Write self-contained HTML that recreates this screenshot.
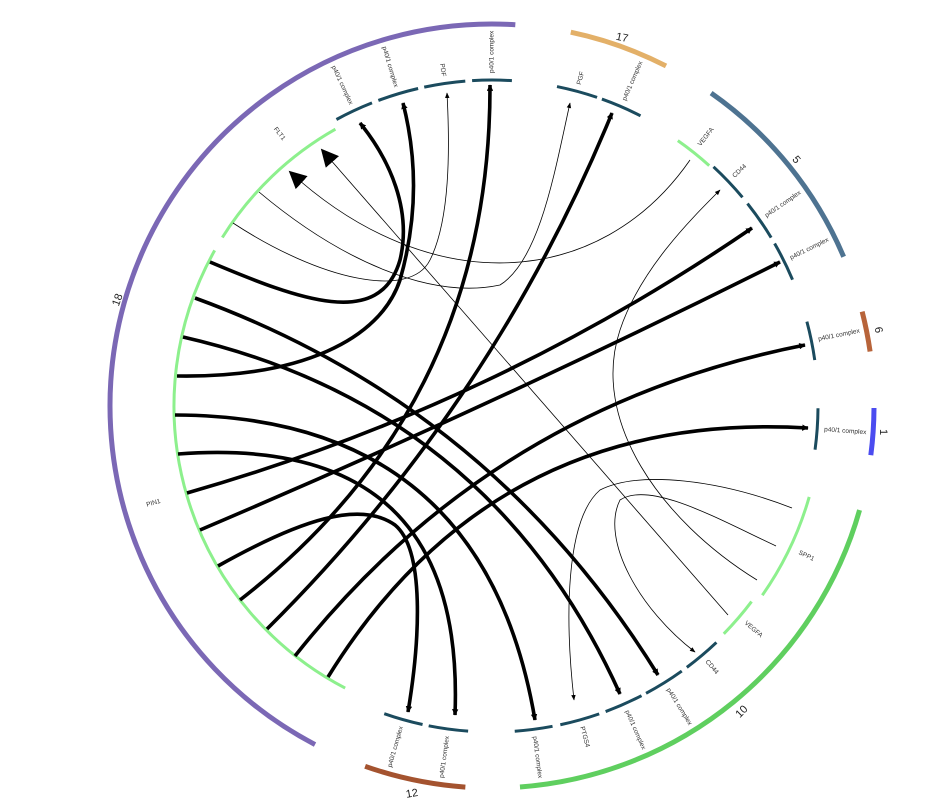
<!DOCTYPE html>
<html><head><meta charset="utf-8"><style>
html,body{margin:0;padding:0;background:#fff;width:946px;height:808px;overflow:hidden}
svg{display:block}
text{font-family:"Liberation Sans",sans-serif}
</style></head><body>
<svg id="s" width="946" height="808" viewBox="0 0 946 808" xmlns="http://www.w3.org/2000/svg">
<defs>
<marker id="a" viewBox="0 0 10 10" refX="9" refY="5" markerWidth="1.8" markerHeight="1.8" orient="auto" markerUnits="strokeWidth"><path d="M0,0L10,5L0,10z" fill="#000"/></marker>
<marker id="at" viewBox="0 0 10 10" refX="9" refY="5" markerWidth="7" markerHeight="7" orient="auto" markerUnits="strokeWidth"><path d="M0,1L10,5L0,9z" fill="#000"/></marker>
<marker id="ab" viewBox="0 0 10 10" refX="9" refY="5" markerWidth="22" markerHeight="22" orient="auto" markerUnits="strokeWidth"><path d="M0,0L10,5L0,10z" fill="#000"/></marker>
</defs>
<g id="g"></g>
</svg>
<script>
var NS="http://www.w3.org/2000/svg",g=document.getElementById('g');
var cx=492,cy=406;
function P(r,a){a=a*Math.PI/180;return [cx+r*Math.cos(a),cy+r*Math.sin(a)];}
function el(n,at,txt){var e=document.createElementNS(NS,n);for(var k in at)e.setAttribute(k,at[k]);if(txt)e.textContent=txt;g.appendChild(e);return e;}
function arc(r,a1,a2,col,w){var p1=P(r,a1),p2=P(r,a2);var large=Math.abs(a2-a1)>180?1:0;var sw=a2>a1?1:0;
el('path',{d:'M'+p1[0]+','+p1[1]+' A'+r+','+r+' 0 '+large+','+sw+' '+p2[0]+','+p2[1],fill:'none',stroke:col,'stroke-width':w});}
arc(382,-86.5,-242.4,'#7b68b5',5);
arc(382,-78.1,-62.9,'#e3b068',5);
arc(382,-55,-23,'#4e7391',5);
arc(382,-14.3,-8.2,'#b8643a',5);
arc(382,0.3,7.4,'#4b4cf0',5);
arc(382,15.8,85.8,'#5fcf5f',5);
arc(382,94,109.4,'#a4532f',5);
function T(x,y,s,fs,rot){var t=el('text',{x:x,y:y,'font-size':fs,fill:'#222','text-anchor':'middle','dominant-baseline':'middle'},s);if(rot!==undefined)t.setAttribute('transform','rotate('+rot+' '+x+' '+y+')');}
T(118,300,'18',11,-70);T(622,38,'17',11,12);T(796,160,'5',11,50);T(878,330,'6',11,80);T(883,432,'1',11,90);T(742,712,'10',11,-45);T(412,794,'12',11,-10);
var LG='#8df08d',DB='#1b4b5e';
arc(318,-119.5,-148,LG,3);
arc(318,-150.7,-242.5,LG,3);
arc(324,-55,-47.9,LG,3);
arc(330,16,35,LG,3);
arc(325,37,44.5,LG,3);
var segs=[[-118.5,-111.6,'p40/1 complex'],[-110.4,-103.1,'p40/1 complex'],[-102,-94.7,'PDF'],[-93.5,-86.5,'p40/1 complex'],
[-78.5,-71.2,'PGF'],[-70.3,-62.9,'p40/1 complex'],[-47.2,-39.8,'CD44'],[-38.4,-31.1,'p40/1 complex'],[-29.9,-22.8,'p40/1 complex'],
[-15,-8.1,'p40/1 complex'],[0.4,7.7,'p40/1 complex'],[46.5,53.3,'CD44'],[54.4,61.8,'p40/1 complex'],[62.7,69.6,'p40/1 complex'],
[70.8,77.9,'PTGS4'],[79.3,86,'p40/1 complex'],[94.2,101.2,'p40/1 complex'],[102.3,109.3,'p40/1 complex']];
segs.forEach(function(s){arc(326,s[0],s[1],DB,3);});
function RL(a,s,r0){var m=(a);var p=P(r0||333,m);var rot=m;var anchor='start';
 if(m>90||m<-90){rot=m+180;anchor='end';}
 el('text',{x:p[0],y:p[1],'font-size':6.5,fill:'#333','text-anchor':anchor,'dominant-baseline':'middle',transform:'rotate('+rot+' '+p[0]+' '+p[1]+')'},s);}
segs.forEach(function(s){RL((s[0]+s[1])/2,s[2]);});
RL(-51.5,'VEGFA');RL(25.5,'SPP1',340);RL(40.5,'VEGFA');
RL(-128,'FLT1',338);RL(164,'PIN1',345);
function chord(p1,p2,w,mk){var mx=(p1[0]+p2[0])/2,my=(p1[1]+p2[1])/2;var d=Math.hypot(p1[0]-p2[0],p1[1]-p2[1]);
 var t=Math.max(0,1-d/640);t=t*t*0.9;var qx=cx+(mx-cx)*t,qy=cy+(my-cy)*t;
 var at={d:'M'+p1[0]+','+p1[1]+' Q'+qx+','+qy+' '+p2[0]+','+p2[1],fill:'none',stroke:'#000','stroke-width':w};
 if(mk)at['marker-end']='url(#'+mk+')';el('path',at);}
function cub(d,w,mk){var at={d:d,fill:'none',stroke:'#000','stroke-width':w};if(mk)at['marker-end']='url(#'+mk+')';el('path',at);}
var TH=3.6;
cub('M210,262 C300,300 380,330 400,260 C412,210 390,160 360,123',TH,'a');
cub('M177,376 C300,378 380,340 400,280 C420,210 415,150 403,103',TH,'a');
chord([195,298],[658,675],TH,'a');
chord([183,337],[620,694],TH,'a');
chord([175,415],[535,720],TH,'a');
chord([178,454],[455,715],TH,'a');
chord([187,493],[752,228],TH,'a');
chord([200,530],[780,262],TH,'a');
cub('M218,566 C300,520 360,500 395,525 C425,550 420,640 408,712',TH,'a');
chord([240,600],[490,85],TH,'a');
chord([267,629],[612,113],TH,'a');
chord([295,656],[805,345],TH,'a');
chord([328,677],[808,428],TH,'a');
cub('M728,615 L322,150',0.8,'ab');
cub('M690,160 C600,290 430,300 290,172',0.8,'ab');
cub('M259,192 C340,260 430,300 500,285 C540,260 555,170 570,103',0.8,'at');
cub('M233,223 C320,280 410,300 430,260 C450,220 450,150 447,93',0.8,'at');
cub('M757,580 C660,520 590,420 620,330 C640,270 690,220 720,190',0.8,'at');
cub('M792,508 C720,480 640,470 600,490 C565,520 565,620 574,700',0.8,'at');
cub('M776,546 C720,520 650,480 620,500 C600,540 640,610 695,652',0.8,'at');
</script>
</body></html>
